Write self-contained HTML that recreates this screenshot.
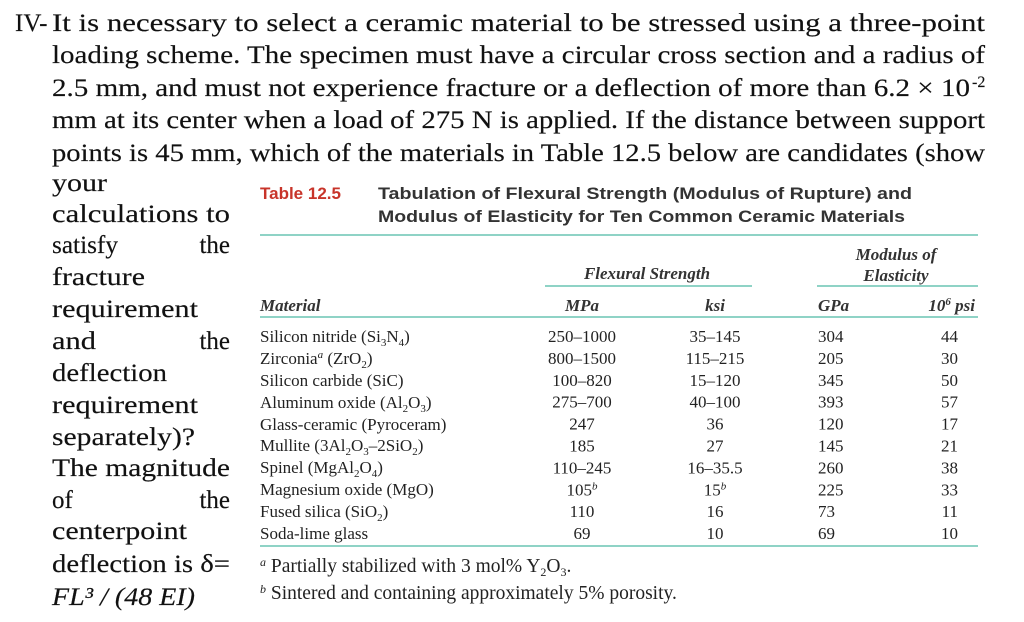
<!DOCTYPE html>
<html><head><meta charset="utf-8"><style>
html,body{margin:0;padding:0;background:#fff;width:1024px;height:622px;overflow:hidden}
svg{display:block}
.q{font-family:"Liberation Serif",serif;font-size:25px;fill:#111;stroke:#111;stroke-width:0.15}
.t{font-family:"Liberation Serif",serif;font-size:17px;fill:#222}
.f{font-family:"Liberation Serif",serif;font-size:19.5px;fill:#222}
.h{font-family:"Liberation Serif",serif;font-size:17px;font-style:italic;font-weight:bold;fill:#333}
.ti{font-family:"Liberation Sans",sans-serif;font-size:17px;font-weight:bold;fill:#333}
.rule{stroke:#8fd3c6;stroke-width:2}
</style></head><body>
<svg width="1024" height="622" viewBox="0 0 1024 622">
<g>
<text class="q" x="15" y="31">IV-</text>
<text class="q" x="52" y="31" textLength="933" lengthAdjust="spacingAndGlyphs">It is necessary to select a ceramic material to be stressed using a three-point</text>
<text class="q" x="52" y="63" textLength="933" lengthAdjust="spacingAndGlyphs">loading scheme. The specimen must have a circular cross section and a radius of</text>
<text class="q" x="52" y="96" textLength="918" lengthAdjust="spacingAndGlyphs">2.5 mm, and must not experience fracture or a deflection of more than 6.2 × 10</text>
<text class="q" x="972" y="87" style="font-size:16px">-2</text>
<text class="q" x="52" y="128" textLength="933" lengthAdjust="spacingAndGlyphs">mm at its center when a load of 275 N is applied.  If the distance between support</text>
<text class="q" x="52" y="161" textLength="933" lengthAdjust="spacingAndGlyphs">points is 45 mm, which of the materials in Table 12.5 below are candidates (show</text>
<text class="q" x="52" y="191" textLength="55" lengthAdjust="spacingAndGlyphs">your</text>
<text class="q" x="52" y="222" textLength="178" lengthAdjust="spacingAndGlyphs">calculations  to</text>
<text class="q" x="52" y="253" textLength="66" lengthAdjust="spacingAndGlyphs">satisfy</text><text class="q" x="230" y="253" text-anchor="end">the</text>
<text class="q" x="52" y="285" textLength="93" lengthAdjust="spacingAndGlyphs">fracture</text>
<text class="q" x="52" y="317" textLength="146" lengthAdjust="spacingAndGlyphs">requirement</text>
<text class="q" x="52" y="349" textLength="44" lengthAdjust="spacingAndGlyphs">and</text><text class="q" x="230" y="349" text-anchor="end">the</text>
<text class="q" x="52" y="381" textLength="115" lengthAdjust="spacingAndGlyphs">deflection</text>
<text class="q" x="52" y="413" textLength="146" lengthAdjust="spacingAndGlyphs">requirement</text>
<text class="q" x="52" y="445" textLength="143" lengthAdjust="spacingAndGlyphs">separately)?</text>
<text class="q" x="52" y="476" textLength="178" lengthAdjust="spacingAndGlyphs">The magnitude</text>
<text class="q" x="52" y="508">of</text><text class="q" x="230" y="508" text-anchor="end">the</text>
<text class="q" x="52" y="539" textLength="135" lengthAdjust="spacingAndGlyphs">centerpoint</text>
<text class="q" x="52" y="572" textLength="178" lengthAdjust="spacingAndGlyphs">deflection is δ=</text>
<text class="q" x="52" y="605" font-style="italic" textLength="143" lengthAdjust="spacingAndGlyphs">FL³ / (48 EI)</text>
</g>
<g>
<text class="ti" x="260" y="199" style="fill:#c8342a">Table 12.5</text>
<text class="ti" x="378" y="199" textLength="534" lengthAdjust="spacingAndGlyphs">Tabulation of Flexural Strength (Modulus of Rupture) and</text>
<text class="ti" x="378" y="222" textLength="527" lengthAdjust="spacingAndGlyphs">Modulus of Elasticity for Ten Common Ceramic Materials</text>
</g>
<g>
<line class="rule" x1="260" y1="235" x2="978" y2="235"/>
<line class="rule" x1="545" y1="286" x2="752" y2="286"/>
<line class="rule" x1="817" y1="286" x2="978" y2="286"/>
<line class="rule" x1="260" y1="317" x2="978" y2="317"/>
<line class="rule" x1="260" y1="546" x2="978" y2="546"/>
</g>
<g>
<text class="h" x="647" y="279" text-anchor="middle">Flexural Strength</text>
<text class="h" x="896" y="260" text-anchor="middle">Modulus of</text>
<text class="h" x="896" y="281" text-anchor="middle">Elasticity</text>
<text class="h" x="260" y="311">Material</text>
<text class="h" x="582" y="311" text-anchor="middle">MPa</text>
<text class="h" x="715" y="311" text-anchor="middle">ksi</text>
<text class="h" x="818" y="311">GPa</text>
<text class="h" x="975" y="311" text-anchor="end">10<tspan dy="-6" font-size="11">6</tspan><tspan dy="6"> psi</tspan></text>
</g>
<g>
<text class="t" x="260" y="342">Silicon nitride (Si<tspan font-size="11" dy="4">3</tspan><tspan dy="-4">N</tspan><tspan font-size="11" dy="4">4</tspan><tspan dy="-4">)</tspan></text>
<text class="t" x="260" y="364">Zirconia<tspan font-style="italic" font-size="11" dy="-6">a</tspan><tspan dy="6"> (ZrO</tspan><tspan font-size="11" dy="4">2</tspan><tspan dy="-4">)</tspan></text>
<text class="t" x="260" y="386">Silicon carbide (SiC)</text>
<text class="t" x="260" y="408">Aluminum oxide (Al<tspan font-size="11" dy="4">2</tspan><tspan dy="-4">O</tspan><tspan font-size="11" dy="4">3</tspan><tspan dy="-4">)</tspan></text>
<text class="t" x="260" y="430">Glass-ceramic (Pyroceram)</text>
<text class="t" x="260" y="451">Mullite (3Al<tspan font-size="11" dy="4">2</tspan><tspan dy="-4">O</tspan><tspan font-size="11" dy="4">3</tspan><tspan dy="-4">–2SiO</tspan><tspan font-size="11" dy="4">2</tspan><tspan dy="-4">)</tspan></text>
<text class="t" x="260" y="473">Spinel (MgAl<tspan font-size="11" dy="4">2</tspan><tspan dy="-4">O</tspan><tspan font-size="11" dy="4">4</tspan><tspan dy="-4">)</tspan></text>
<text class="t" x="260" y="495">Magnesium oxide (MgO)</text>
<text class="t" x="260" y="517">Fused silica (SiO<tspan font-size="11" dy="4">2</tspan><tspan dy="-4">)</tspan></text>
<text class="t" x="260" y="539">Soda-lime glass</text>
<g id="cols"></g>
</g>
<g>
<text class="f" x="260" y="572"><tspan font-style="italic" font-size="12" dy="-6">a</tspan><tspan dy="6"> Partially stabilized with 3 mol% Y</tspan><tspan font-size="12" dy="4">2</tspan><tspan dy="-4">O</tspan><tspan font-size="12" dy="4">3</tspan><tspan dy="-4">.</tspan></text>
<text class="f" x="260" y="599"><tspan font-style="italic" font-size="12" dy="-6">b</tspan><tspan dy="6"> Sintered and containing approximately 5% porosity.</tspan></text>
</g>
</svg>
<script>
const mpa=["250–1000","800–1500","100–820","275–700","247","185","110–245","105","110","69"];
const ksi=["35–145","115–215","15–120","40–100","36","27","16–35.5","15","16","10"];
const gpa=["304","205","345","393","120","145","260","225","73","69"];
const psi=["44","30","50","57","17","21","38","33","11","10"];
const ns="http://www.w3.org/2000/svg";
const g=document.getElementById('cols');
function rowY(i){return 342+i*21.9;}
function add(txt,x,y,anchor,sup){
  const t=document.createElementNS(ns,'text');
  t.setAttribute('class','t');
  t.setAttribute('x',x);t.setAttribute('y',y);t.setAttribute('text-anchor',anchor);
  
  
  t.textContent=txt;
  if(sup){const s=document.createElementNS(ns,'tspan');s.setAttribute('font-size','11');s.setAttribute('font-style','italic');s.setAttribute('dy','-6');s.textContent=sup;t.appendChild(s);}
  g.appendChild(t);
}
for(let i=0;i<mpa.length;i++){
  const y=rowY(i);
  add(mpa[i],582,y,'middle',i===7?'b':null);
  add(ksi[i],715,y,'middle',i===7?'b':null);
  add(gpa[i],818,y,'start');
  add(psi[i],958,y,'end');
}
</script>
</body></html>
